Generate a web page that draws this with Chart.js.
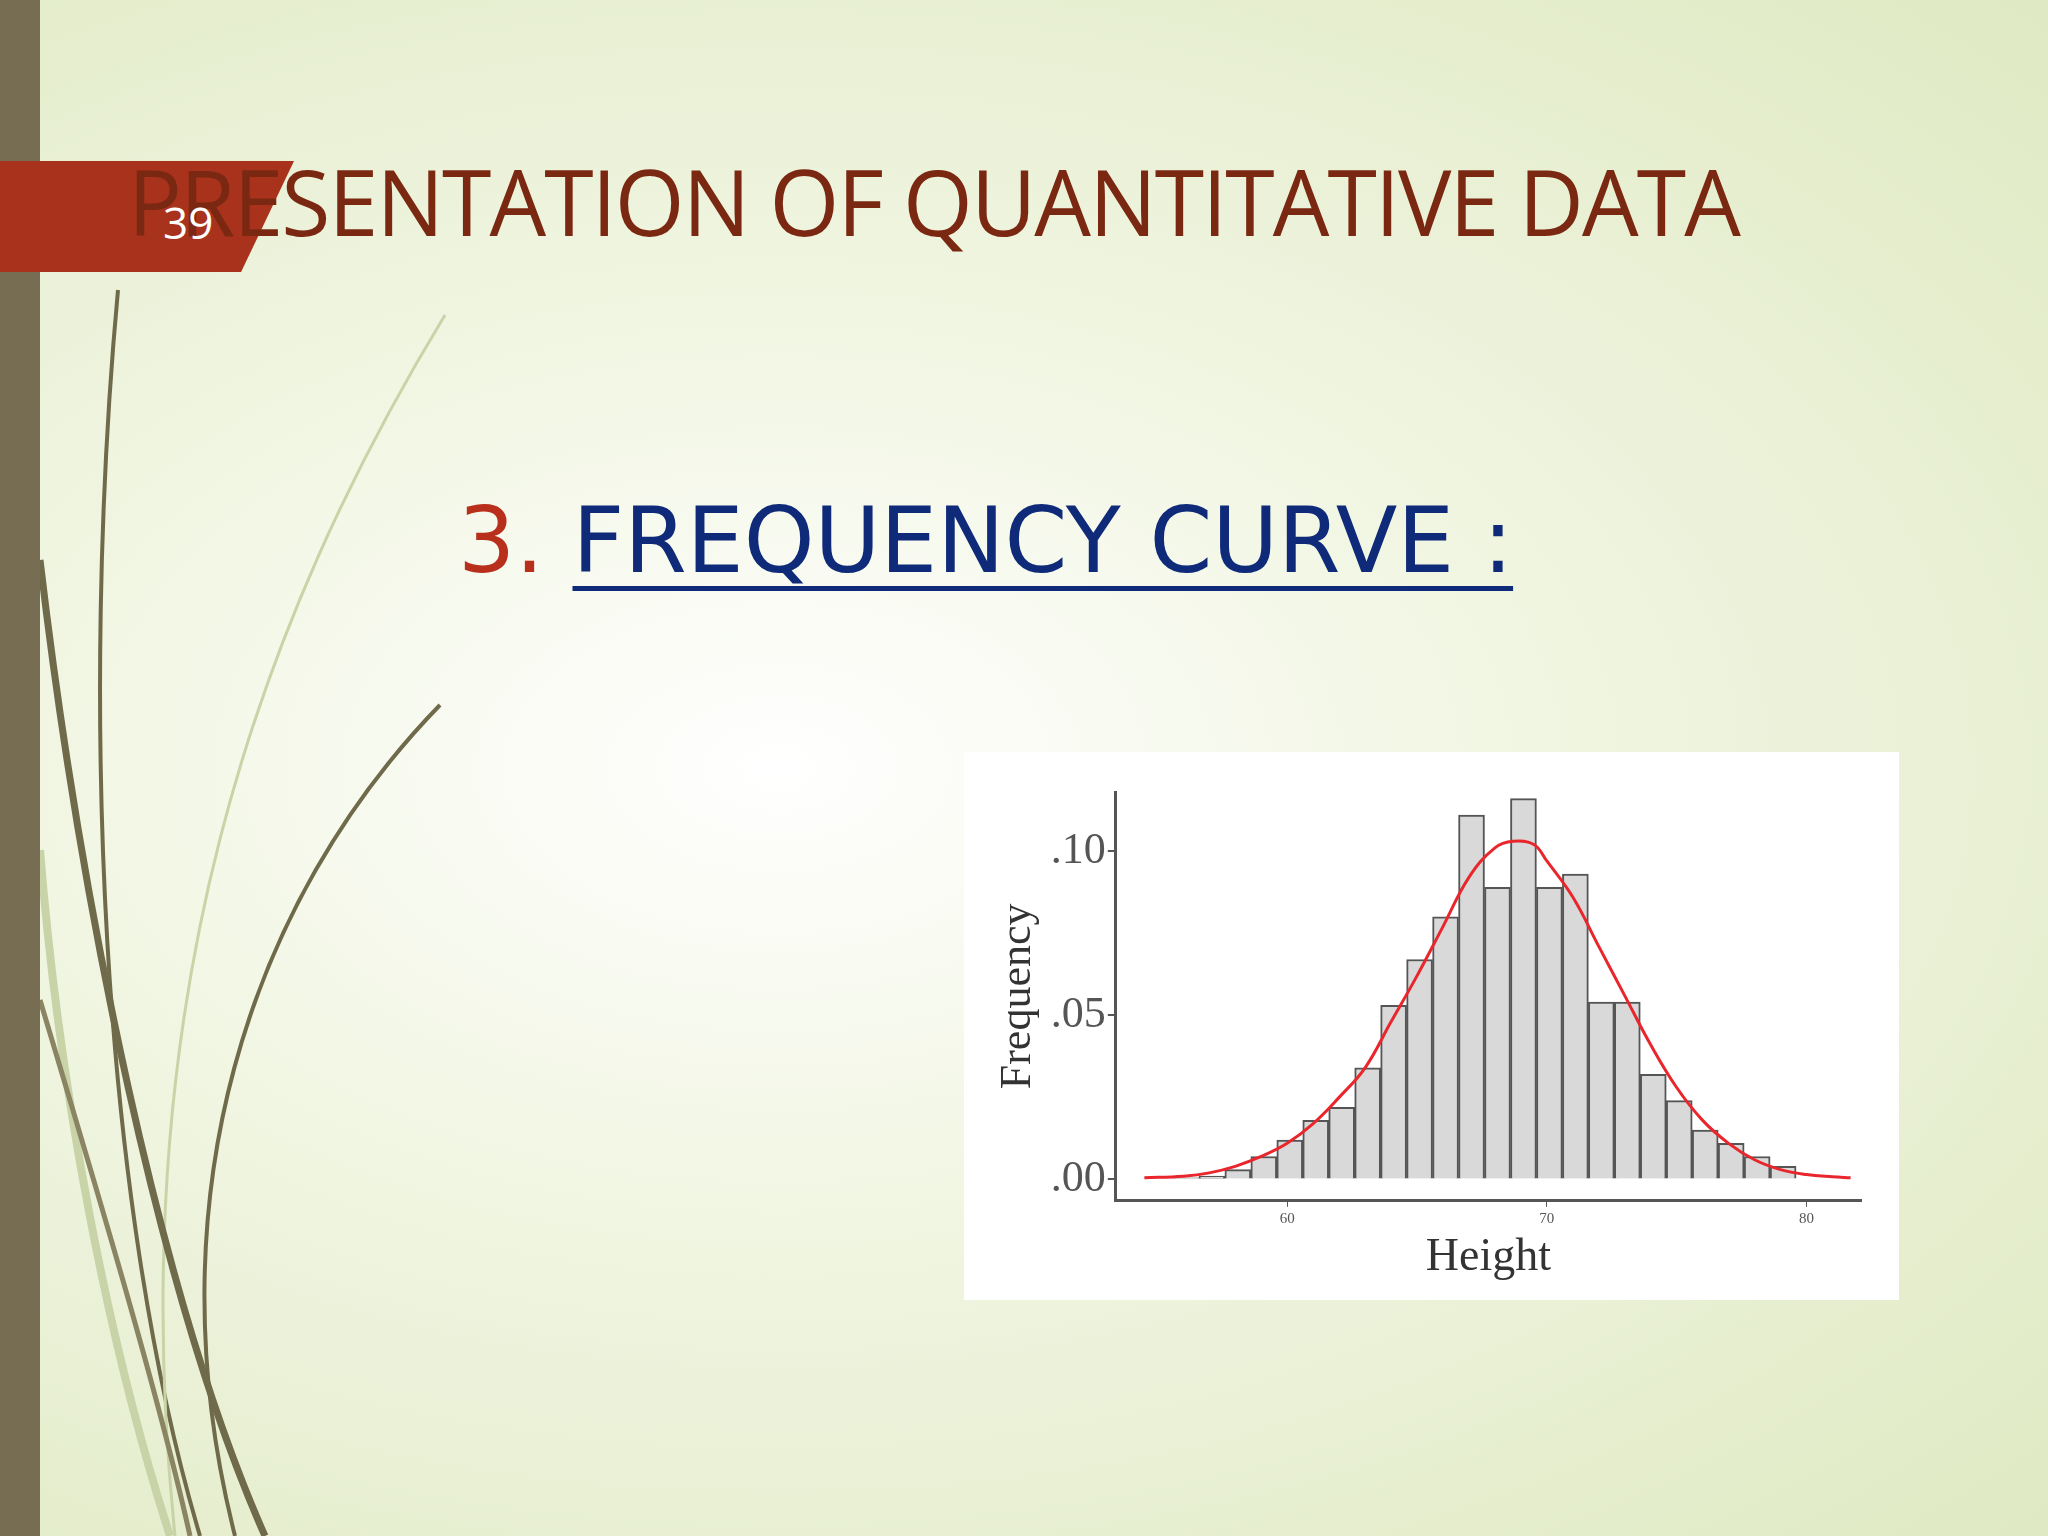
<!DOCTYPE html>
<html>
<head>
<meta charset="utf-8">
<script src="https://cdn.jsdelivr.net/npm/chart.js@4"></script>
<style>
  html, body { margin: 0; padding: 0; }
  body {
    width: 2048px; height: 1536px; overflow: hidden; position: relative;
    background: radial-gradient(ellipse at 38% 50%, #ffffff 0%, #f3f7e6 35%, #dfe9c2 100%);
    font-family: "Open Sans", sans-serif;
  }
  #barra { position: absolute; left: 0; top: 0; width: 40px; height: 1536px; background: #766d52; }
  #tab { position: absolute; left: 0; top: 161px; width: 294px; height: 111px; background: #a8321c;
         clip-path: polygon(0 0, 100% 0, 82% 100%, 0 100%); }
  #num { position: absolute; left: 163px; top: 192px; color: #fff; font-size: 44px; }
  #titulo { position: absolute; left: 128px; top: 138px; color: #7b2812; font-size: 92px; letter-spacing: -2px;
            transform: scaleX(0.975); transform-origin: left top; white-space: nowrap; }
  #sub { position: absolute; left: 458px; top: 488px; font-size: 90px; font-family: "DejaVu Sans", sans-serif; white-space: nowrap; }
  #sub .n { color: #b8301c; }
  #sub .t { color: #0e2a78; text-decoration: underline; text-decoration-thickness: 5px; text-underline-offset: 14px; }
  #caja { position: absolute; left: 964px; top: 752px; width: 935px; height: 548px; background: #fff; }
  svg { position: absolute; left: 0; top: 0; }
</style>
</head>
<body>
<svg width="500" height="1536">
  <path d="M118 290 C 80 700, 100 1200, 200 1536" stroke="#6f6a4a" stroke-width="4" fill="none"/>
  <path d="M440 705 C 250 900, 150 1200, 235 1536" stroke="#6f6a4a" stroke-width="4" fill="none"/>
  <path d="M445 315 C 260 620, 120 1000, 175 1536" stroke="#c9d3a8" stroke-width="3" fill="none"/>
  <path d="M40 560 C 80 900, 160 1300, 265 1536" stroke="#6f6a4a" stroke-width="7" fill="none"/>
  <path d="M40 850 C 60 1100, 110 1350, 170 1536" stroke="#c9d3a8" stroke-width="8" fill="none"/>
  <path d="M40 1000 C 100 1200, 160 1400, 190 1536" stroke="#8a8462" stroke-width="5" fill="none"/>
</svg>
<div id="barra"></div>
<div id="tab"></div>
<div id="titulo">PRESENTATION OF QUANTITATIVE DATA</div>
<div id="num">39</div>
<div id="sub"><span class="n">3.</span> <span class="t">FREQUENCY CURVE :</span></div>
<div id="caja"><canvas id="grafico" width="935" height="548"></canvas></div>
<script>
// histograma: centros de clase y frecuencias relativas
const centros = [56.1, 57.1, 58.1, 59.1, 60.1, 61.1, 62.1, 63.1, 64.1, 65.1, 66.1, 67.1, 68.1, 69.1, 70.1, 71.1, 72.1, 73.1, 74.1, 75.1, 76.1, 77.1, 78.1, 79.1];
const frecuencias = [0.0005, 0.001, 0.003, 0.007, 0.012, 0.018, 0.022, 0.034, 0.053, 0.067, 0.080, 0.111, 0.089, 0.116, 0.089, 0.093, 0.054, 0.054, 0.032, 0.024, 0.015, 0.011, 0.007, 0.004];

// curva de frecuencia
const curvaX = [54.5, 56, 57, 58, 59, 60, 61, 62, 63, 64, 65, 66, 67, 68, 68.7, 69.5, 70, 71, 72, 73, 74, 75, 76, 77, 78, 79, 80, 81, 81.7];
const curvaY = [0.0005, 0.001, 0.002, 0.004, 0.007, 0.011, 0.017, 0.025, 0.034, 0.048, 0.062, 0.077, 0.092, 0.101, 0.103, 0.102, 0.097, 0.086, 0.071, 0.056, 0.041, 0.028, 0.018, 0.011, 0.006, 0.003, 0.0015, 0.0008, 0.0005];

const ticksX = [60, 70, 80];
const ticksY = [0, 0.05, 0.10];

const ctx = document.getElementById('grafico');

new Chart(ctx, {
  type: 'bar',
  data: {
    datasets: [{
      type: 'line',
      data: curvaX.map((x, i) => ({ x: x, y: curvaY[i] })),
      borderColor: '#e8262c',
      borderWidth: 3,
      pointRadius: 0,
      tension: 0.4,
      order: 0
    }, {
      data: centros.map((x, i) => ({ x: x, y: frecuencias[i] })),
      backgroundColor: '#d9d9d9',
      borderColor: '#555',
      borderWidth: 2,
      barPercentage: 1,
      categoryPercentage: 1,
      order: 1
    }]
  },
  options: {
    responsive: false,
    animation: false,
    devicePixelRatio: 1,
    layout: { padding: { left: 24, right: 38, top: 40, bottom: 10 } },
    plugins: { legend: { display: false }, tooltip: { enabled: false } },
    scales: {
      x: {
        type: 'linear', min: 53.4, max: 82.1, offset: false,
        afterBuildTicks: s => { s.ticks = ticksX.map(v => ({ value: v })); },
        grid: { drawOnChartArea: false, drawTicks: true, offset: false, tickLength: 6, color: '#555' },
        border: { color: '#555', width: 3 },
        ticks: { color: '#555', font: { family: 'Liberation Serif', size: 15 } },
        title: { display: true, text: 'Height', color: '#333', font: { family: 'Liberation Serif', size: 46 }, padding: { top: 0 } }
      },
      y: {
        min: -0.0065, max: 0.118,
        afterBuildTicks: s => { s.ticks = ticksY.map(v => ({ value: v })); },
        grid: { drawOnChartArea: false, tickLength: 8, color: '#555', lineWidth: 2 },
        border: { color: '#555', width: 3 },
        ticks: {
          color: '#555', padding: 2, font: { family: 'Liberation Serif', size: 44 },
          callback: v => '.' + Math.round(v * 100).toString().padStart(2, '0')
        },
        title: { display: true, text: 'Frequency', color: '#333', font: { family: 'Liberation Serif', size: 44 } }
      }
    }
  }
});
</script>
</body>
</html>
